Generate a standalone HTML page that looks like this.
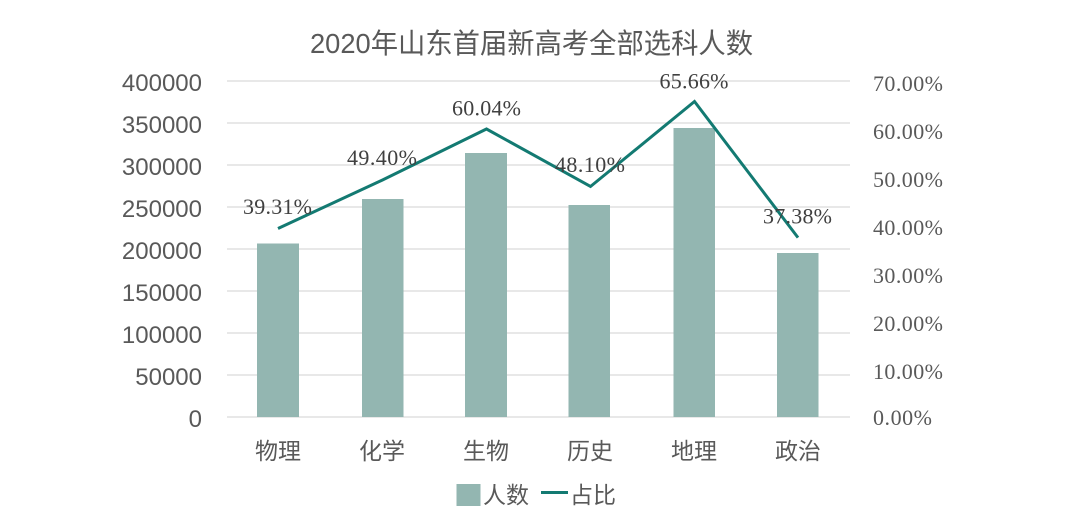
<!DOCTYPE html>
<html>
<head>
<meta charset="utf-8">
<style>
html,body{margin:0;padding:0;background:#fff;}
svg{display:block;}
</style>
</head>
<body>
<svg width="1080" height="521" viewBox="0 0 1080 521" xmlns="http://www.w3.org/2000/svg">
<rect width="1080" height="521" fill="#fff"/>
<!-- title -->
<text x="531.5" y="53" text-anchor="middle" font-family="'Liberation Sans','Noto Sans CJK SC',sans-serif" font-size="28" fill="#595959" textLength="443" lengthAdjust="spacingAndGlyphs">2020年山东首届新高考全部选科人数</text>
<!-- grid -->
<g stroke="#d9d9d9" stroke-width="1.3">
<line x1="227" y1="81" x2="850" y2="81"/>
<line x1="227" y1="123" x2="850" y2="123"/>
<line x1="227" y1="165" x2="850" y2="165"/>
<line x1="227" y1="207" x2="850" y2="207"/>
<line x1="227" y1="249" x2="850" y2="249"/>
<line x1="227" y1="291" x2="850" y2="291"/>
<line x1="227" y1="333" x2="850" y2="333"/>
<line x1="227" y1="375" x2="850" y2="375"/>
<line x1="227" y1="417" x2="850" y2="417"/>
</g>
<!-- left axis -->
<g font-family="'Liberation Sans',sans-serif" font-size="24" fill="#595959" text-anchor="end">
<text x="202" y="91">400000</text>
<text x="202" y="133">350000</text>
<text x="202" y="175">300000</text>
<text x="202" y="217">250000</text>
<text x="202" y="259">200000</text>
<text x="202" y="301">150000</text>
<text x="202" y="343">100000</text>
<text x="202" y="385">50000</text>
<text x="202" y="427">0</text>
</g>
<!-- right axis -->
<g font-family="'Liberation Serif',serif" font-size="22" fill="#595959">
<text x="873" y="91" textLength="70">70.00%</text>
<text x="873" y="139" textLength="70">60.00%</text>
<text x="873" y="187" textLength="70">50.00%</text>
<text x="873" y="235" textLength="70">40.00%</text>
<text x="873" y="283" textLength="70">30.00%</text>
<text x="873" y="331" textLength="70">20.00%</text>
<text x="873" y="379" textLength="70">10.00%</text>
<text x="873" y="425" textLength="59">0.00%</text>
</g>
<!-- bars -->
<g fill="#93b6b1">
<rect x="257" y="243.5" width="42" height="173.5"/>
<rect x="362" y="199" width="41.5" height="218"/>
<rect x="465" y="153" width="42" height="264"/>
<rect x="568.5" y="205" width="41.5" height="212"/>
<rect x="673.5" y="128" width="41.5" height="289"/>
<rect x="777" y="253" width="41.5" height="164"/>
</g>
<!-- line -->
<polyline points="278,228.5 382.5,180 486.5,129 590.5,186.5 694.5,101.5 798,237.6" fill="none" stroke="#137a72" stroke-width="3" stroke-linejoin="miter"/>
<!-- data labels -->
<g font-family="'Liberation Serif',serif" font-size="22" fill="#404040">
<text x="243" y="214" textLength="69">39.31%</text>
<text x="347" y="165" textLength="70">49.40%</text>
<text x="452" y="115.5" textLength="69">60.04%</text>
<text x="555" y="172" textLength="70">48.10%</text>
<text x="659.5" y="88.5" textLength="69">65.66%</text>
<text x="763" y="223.5" textLength="69">37.38%</text>
</g>
<!-- categories -->
<g font-family="'Liberation Sans','Noto Sans CJK SC',sans-serif" font-size="23" fill="#595959" text-anchor="middle">
<text x="278" y="459">物理</text>
<text x="382" y="459">化学</text>
<text x="486" y="459">生物</text>
<text x="590" y="459">历史</text>
<text x="694" y="459">地理</text>
<text x="798" y="459">政治</text>
</g>
<!-- legend -->
<rect x="456.5" y="484" width="24" height="22" fill="#93b6b1"/>
<text x="483" y="503" font-family="'Liberation Sans','Noto Sans CJK SC',sans-serif" font-size="23" fill="#595959">人数</text>
<line x1="541" y1="492.5" x2="568" y2="492.5" stroke="#137a72" stroke-width="3"/>
<text x="570" y="503" font-family="'Liberation Sans','Noto Sans CJK SC',sans-serif" font-size="23" fill="#595959">占比</text>
</svg>
</body>
</html>
